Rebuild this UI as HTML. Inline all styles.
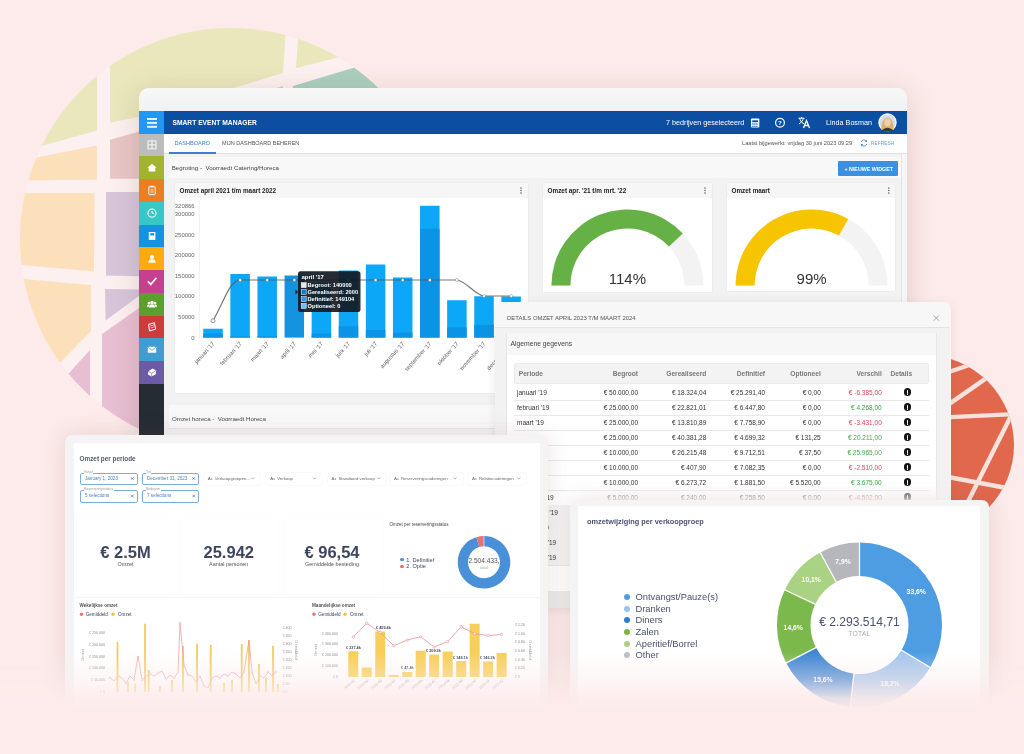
<!DOCTYPE html>
<html><head><meta charset="utf-8"><title>Smart Event Manager</title>
<style>
*{margin:0;padding:0;box-sizing:border-box}
html,body{width:1024px;height:754px;overflow:hidden;background:#fcebea;font-family:'Liberation Sans',Arial,sans-serif}
.abs{position:absolute}
.pc{position:absolute;width:1024px;height:754px}
.t{position:absolute;white-space:nowrap;line-height:1}
svg{position:absolute;left:0;top:0;overflow:visible}
#win{left:139px;top:88px;width:768px;height:347px;border-radius:10px 10px 0 0;overflow:hidden;background:#f4f4f4;box-shadow:0 6px 28px rgba(120,80,80,.22)}
#win>.pc{left:-139px;top:-88px}
#modal{left:495px;top:302px;width:455.5px;height:306px;border-radius:7px 7px 0 0;overflow:hidden;background:#f6f6f6;box-shadow:0 2px 10px rgba(120,80,80,.12)}
#modal>.pc{left:-495px;top:-302px}
#card1{left:65px;top:435px;width:483px;height:300px;border-radius:7px 7px 0 0;overflow:hidden;background:#f5f4f4;box-shadow:0 0 22px rgba(120,80,80,.16)}
#card1>.pc{left:-65px;top:-435px}
#card2{left:570px;top:500px;width:419px;height:240px;border-radius:7px 7px 0 0;overflow:hidden;background:#f5f4f4;box-shadow:0 0 22px rgba(120,80,80,.16)}
#card2>.pc{left:-570px;top:-500px}
#fade{left:0;top:0;width:1024px;height:754px;background:linear-gradient(to bottom,rgba(252,235,234,0) 0px,rgba(252,235,234,0) 652px,rgba(252,235,234,.45) 680px,rgba(252,235,234,.88) 698px,rgba(252,235,234,1) 710px)}
</style></head>
<body>
<div id="root" style="position:absolute;left:0;top:0;width:1024px;height:754px;filter:blur(0.3px)">
<svg width="1024" height="754" viewBox="0 0 1024 754">
<defs><clipPath id="gc"><circle cx="231" cy="239" r="211"/></clipPath>
<clipPath id="oc"><circle cx="924" cy="445" r="90"/></clipPath>
<linearGradient id="gsh" x1="0" y1="0" x2="1" y2="0"><stop offset="0" stop-color="#000" stop-opacity="0"/><stop offset="1" stop-color="#000" stop-opacity="0.06"/></linearGradient>
</defs>
<g clip-path="url(#gc)" style="filter:blur(0.4px)">
<circle cx="231" cy="239" r="211" fill="#fcf1f0"/>
<polygon fill="#e9e7bb" points="0,0 97,0 97,130.6 43,145.4 0,157"/>
<polygon fill="#e9e7bb" points="110,0 288,0 283,73 139,117 110,122.5"/>
<polygon fill="#e9e7bb" points="301,0 520,0 520,10 296,68.3"/>
<polygon fill="#abcfbf" points="293,86 352,68.3 520,20 520,220 293,220"/>
<polygon fill="#e9c6c6" points="110,139.8 139,131.5 283,86 283,178.8 110,178.8"/>
<polygon fill="#fce0bb" points="0,165 97,145.4 97,179.8 0,180.7"/>
<polygon fill="#fce0bb" points="0,193 94.5,193 94,271.5 0,263"/>
<polygon fill="#d8c5da" points="106,192 300,192 300,280 106,275.5"/>
<polygon fill="#fce0bb" points="0,277 91,285 91,331 60,363 40,385 0,430"/>
<polygon fill="#d8c5da" points="105,289 300,292 300,230 139,296 105.6,320.6"/>
<polygon fill="#e8bfd2" points="0,440 48,398 70,372 90,350 90,520 0,520"/>
<polygon fill="#e8bfd2" points="102,334 139,308 300,240 300,520 102,520"/>
</g>
<g clip-path="url(#oc)"><rect x="830" y="340" width="200" height="200" fill="#e1684d"/><g stroke="#f7e2de" stroke-width="4.4" fill="none"><line x1="940" y1="375" x2="990" y2="358"/><line x1="940" y1="410.4" x2="1000" y2="368.6"/><line x1="940" y1="417.6" x2="1020" y2="413.8"/><line x1="1013.9" y1="410" x2="958.8" y2="520"/><line x1="940" y1="475.5" x2="1012" y2="489"/></g></g>
</svg>
<div id="win" class="abs"><div class="pc">
<div class="abs" style="left:139.00px;top:88.00px;width:768.00px;height:23.00px;background:linear-gradient(#f8f8f8,#f1f1f1)"></div>
<div class="abs" style="left:164.00px;top:111.00px;width:743.00px;height:22.50px;background:#0b4ea2"></div>
<div class="abs" style="left:139.00px;top:111.00px;width:25.00px;height:22.50px;background:#2196f3"></div>
<div class="abs" style="left:147.00px;top:118.00px;width:9.80px;height:1.70px;background:#e8f4ff;box-shadow:0 3.9px 0 #e8f4ff,0 7.8px 0 #e8f4ff"></div>
<div class="t" style="left:172.50px;top:120.30px;font-size:6.7px;color:#fff;font-weight:bold">SMART EVENT MANAGER</div>
<div class="t" style="left:666.00px;top:119.20px;font-size:7.2px;color:#fff;">7 bedrijven geselecteerd</div>
<div class="t" style="left:826.00px;top:119.20px;font-size:7.2px;color:#fff;">Linda Bosman</div>
<div class="abs" style="left:139.00px;top:133.50px;width:25.00px;height:302.00px;background:#252c33"></div>
<div class="abs" style="left:139.00px;top:133.50px;width:25.00px;height:22.85px;background:#bcbcbc"></div>
<div class="abs" style="left:139.00px;top:156.25px;width:25.00px;height:22.85px;background:#a2b42f"></div>
<div class="abs" style="left:139.00px;top:179.00px;width:25.00px;height:22.85px;background:#eb7d22"></div>
<div class="abs" style="left:139.00px;top:201.75px;width:25.00px;height:22.85px;background:#38c7c7"></div>
<div class="abs" style="left:139.00px;top:224.50px;width:25.00px;height:22.85px;background:#1592e0"></div>
<div class="abs" style="left:139.00px;top:247.25px;width:25.00px;height:22.85px;background:#fcaa0e"></div>
<div class="abs" style="left:139.00px;top:270.00px;width:25.00px;height:22.85px;background:#c5408e"></div>
<div class="abs" style="left:139.00px;top:292.75px;width:25.00px;height:22.85px;background:#5b9f2d"></div>
<div class="abs" style="left:139.00px;top:315.50px;width:25.00px;height:22.85px;background:#cd3c3c"></div>
<div class="abs" style="left:139.00px;top:338.25px;width:25.00px;height:22.85px;background:#409cd1"></div>
<div class="abs" style="left:139.00px;top:361.00px;width:25.00px;height:22.85px;background:#6b5ba7"></div>
<div class="abs" style="left:164.00px;top:133.50px;width:743.00px;height:20.00px;background:#fff;border-bottom:1px solid #e2e2e2"></div>
<div class="t" style="left:174.50px;top:141.30px;font-size:5.6px;color:#3b7fd4;">DASHBOARD</div>
<div class="abs" style="left:169.00px;top:152.00px;width:47.00px;height:1.60px;background:#3b7fd4"></div>
<div class="t" style="left:222.00px;top:141.30px;font-size:5.5px;color:#555;">MIJN DASHBOARD BEHEREN</div>
<div class="t" style="left:742.00px;top:141.00px;font-size:5.65px;color:#555;">Laatst bijgewerkt: vrijdag 30 juni 2023 09:29</div>
<div class="t" style="left:871.00px;top:141.60px;font-size:4.75px;color:#5a98de;letter-spacing:0.1px">REFRESH</div>
<div class="abs" style="left:164.00px;top:154.00px;width:743.00px;height:281.00px;background:#f2f2f2"></div>
<div class="abs" style="left:168.50px;top:157.00px;width:735.00px;height:21.00px;background:#f8f8f8"></div>
<div class="t" style="left:171.70px;top:165.00px;font-size:6.2px;color:#444;">Begroting -&nbsp; Voorraedt Catering/Horeca</div>
<div class="abs" style="left:838.00px;top:160.75px;width:60.00px;height:15.50px;background:#3d8fe0;border-radius:1px"></div>
<div class="t" style="left:844.50px;top:166.50px;font-size:5.3px;color:#fff;font-weight:bold">+ NIEUWE WIDGET</div>
<div class="abs" style="left:901.00px;top:154.00px;width:6.00px;height:281.00px;background:#f6f6f6;border-left:1px solid #e4e4e4"></div>
<div class="abs" style="left:174.50px;top:182.50px;width:353.00px;height:210.00px;background:#fff;box-shadow:0 0 1px rgba(0,0,0,.12)"></div>
<div class="abs" style="left:174.50px;top:182.50px;width:353.00px;height:15.00px;background:#f6f6f6"></div>
<div class="t" style="left:179.50px;top:187.70px;font-size:6.35px;color:#222;font-weight:bold">Omzet april 2021 t/m maart 2022</div>
<div class="abs" style="left:542.50px;top:183.00px;width:169.50px;height:108.50px;background:#fff;box-shadow:0 0 1px rgba(0,0,0,.12)"></div>
<div class="abs" style="left:542.50px;top:183.00px;width:169.50px;height:14.50px;background:#f6f6f6"></div>
<div class="t" style="left:547.50px;top:188.00px;font-size:6.4px;color:#222;font-weight:bold">Omzet apr. '21 t/m mrt. '22</div>
<div class="abs" style="left:727.00px;top:182.50px;width:167.50px;height:108.50px;background:#fff;box-shadow:0 0 1px rgba(0,0,0,.12)"></div>
<div class="abs" style="left:727.00px;top:182.50px;width:167.50px;height:15.00px;background:#f6f6f6"></div>
<div class="t" style="left:731.50px;top:188.00px;font-size:6.35px;color:#222;font-weight:bold">Omzet maart</div>
<svg width="1024" height="754" style="font-family:'Liberation Sans',Arial,sans-serif">
<line x1="199.5" y1="200" x2="199.5" y2="338" stroke="#eee" stroke-width="0.8"/>
<text x="194.5" y="207.60" font-size="5.9" fill="#666" text-anchor="end">320866</text>
<text x="194.5" y="215.85" font-size="5.9" fill="#666" text-anchor="end">300000</text>
<text x="194.5" y="236.50" font-size="5.9" fill="#666" text-anchor="end">250000</text>
<text x="194.5" y="257.10" font-size="5.9" fill="#666" text-anchor="end">200000</text>
<text x="194.5" y="277.70" font-size="5.9" fill="#666" text-anchor="end">150000</text>
<text x="194.5" y="298.40" font-size="5.9" fill="#666" text-anchor="end">100000</text>
<text x="194.5" y="319.10" font-size="5.9" fill="#666" text-anchor="end">50000</text>
<text x="194.5" y="339.70" font-size="5.9" fill="#666" text-anchor="end">0</text>
<rect x="203.25" y="328.75" width="19.5" height="8.85" fill="#0ca7f6"/>
<rect x="203.25" y="333.5" width="19.5" height="4.10" fill="#0b93e6"/>
<rect x="230.35" y="274" width="19.5" height="63.60" fill="#0ca7f6"/>
<rect x="230.35" y="336.3" width="19.5" height="1.30" fill="#0b93e6"/>
<rect x="257.45" y="276.5" width="19.5" height="61.10" fill="#0ca7f6"/>
<rect x="257.45" y="336.3" width="19.5" height="1.30" fill="#0b93e6"/>
<rect x="284.55" y="275.5" width="19.5" height="62.10" fill="#1494df"/>
<rect x="311.65" y="283" width="19.5" height="54.60" fill="#0ca7f6"/>
<rect x="311.65" y="333.5" width="19.5" height="4.10" fill="#0b93e6"/>
<rect x="338.75" y="270.5" width="19.5" height="67.10" fill="#0ca7f6"/>
<rect x="338.75" y="326.25" width="19.5" height="11.35" fill="#0b93e6"/>
<rect x="365.85" y="264.5" width="19.5" height="73.10" fill="#0ca7f6"/>
<rect x="365.85" y="330" width="19.5" height="7.60" fill="#0b93e6"/>
<rect x="392.95" y="277.5" width="19.5" height="60.10" fill="#0ca7f6"/>
<rect x="392.95" y="332.5" width="19.5" height="5.10" fill="#0b93e6"/>
<rect x="420.05" y="205.75" width="19.5" height="131.85" fill="#0ca7f6"/>
<rect x="420.05" y="228.75" width="19.5" height="108.85" fill="#0b93e6"/>
<rect x="447.15" y="300.25" width="19.5" height="37.35" fill="#0ca7f6"/>
<rect x="447.15" y="327.5" width="19.5" height="10.10" fill="#0b93e6"/>
<rect x="474.25" y="296.25" width="19.5" height="41.35" fill="#0ca7f6"/>
<rect x="474.25" y="325" width="19.5" height="12.60" fill="#0b93e6"/>
<rect x="501.35" y="296.5" width="19.5" height="41.10" fill="#0ca7f6"/>
<rect x="501.35" y="330" width="19.5" height="7.60" fill="#0b93e6"/>
<path d="M213,320.75 C224,302 229,281 240,280 L457,280 C466,281 475,295 484,296 L511,296" fill="none" stroke="rgba(85,85,85,.8)" stroke-width="1.2"/>
<circle cx="213" cy="320.75" r="2" fill="#fff" stroke="#777" stroke-width="0.8"/>
<circle cx="240.10" cy="280" r="1.5" fill="#fff" stroke="rgba(85,85,85,.7)" stroke-width="0.5"/>
<circle cx="267.20" cy="280" r="1.5" fill="#fff" stroke="rgba(85,85,85,.7)" stroke-width="0.5"/>
<circle cx="294.30" cy="280" r="1.5" fill="#fff" stroke="rgba(85,85,85,.7)" stroke-width="0.5"/>
<circle cx="321.40" cy="280" r="1.5" fill="#fff" stroke="rgba(85,85,85,.7)" stroke-width="0.5"/>
<circle cx="348.50" cy="280" r="1.5" fill="#fff" stroke="rgba(85,85,85,.7)" stroke-width="0.5"/>
<circle cx="375.60" cy="280" r="1.5" fill="#fff" stroke="rgba(85,85,85,.7)" stroke-width="0.5"/>
<circle cx="402.70" cy="280" r="1.5" fill="#fff" stroke="rgba(85,85,85,.7)" stroke-width="0.5"/>
<circle cx="429.80" cy="280" r="1.5" fill="#fff" stroke="rgba(85,85,85,.7)" stroke-width="0.5"/>
<circle cx="456.90" cy="280" r="1.5" fill="#fff" stroke="rgba(85,85,85,.7)" stroke-width="0.5"/>
<circle cx="484.00" cy="296" r="1.5" fill="#fff" stroke="rgba(85,85,85,.7)" stroke-width="0.5"/>
<circle cx="511.10" cy="296" r="1.5" fill="#fff" stroke="rgba(85,85,85,.7)" stroke-width="0.5"/>
<text x="215.00" y="344" font-size="5.9" fill="#666" text-anchor="end" transform="rotate(-48 215.00 344)">januari '17</text>
<text x="242.10" y="344" font-size="5.9" fill="#666" text-anchor="end" transform="rotate(-48 242.10 344)">februari '17</text>
<text x="269.20" y="344" font-size="5.9" fill="#666" text-anchor="end" transform="rotate(-48 269.20 344)">maart '17</text>
<text x="296.30" y="344" font-size="5.9" fill="#666" text-anchor="end" transform="rotate(-48 296.30 344)">april '17</text>
<text x="323.40" y="344" font-size="5.9" fill="#666" text-anchor="end" transform="rotate(-48 323.40 344)">mei '17</text>
<text x="350.50" y="344" font-size="5.9" fill="#666" text-anchor="end" transform="rotate(-48 350.50 344)">juni '17</text>
<text x="377.60" y="344" font-size="5.9" fill="#666" text-anchor="end" transform="rotate(-48 377.60 344)">juli '17</text>
<text x="404.70" y="344" font-size="5.9" fill="#666" text-anchor="end" transform="rotate(-48 404.70 344)">augustus '17</text>
<text x="431.80" y="344" font-size="5.9" fill="#666" text-anchor="end" transform="rotate(-48 431.80 344)">september '17</text>
<text x="458.90" y="344" font-size="5.9" fill="#666" text-anchor="end" transform="rotate(-48 458.90 344)">oktober '17</text>
<text x="486.00" y="344" font-size="5.9" fill="#666" text-anchor="end" transform="rotate(-48 486.00 344)">november '17</text>
<text x="513.10" y="344" font-size="5.9" fill="#666" text-anchor="end" transform="rotate(-48 513.10 344)">december '17</text>
<path d="M298,292 l-2.5,-2.5 v5 z" fill="rgba(18,26,34,.92)"/>
<rect x="298" y="271.25" width="62.5" height="40.75" rx="2.5" fill="rgba(18,26,34,.92)"/>
<text x="301.5" y="278.5" font-size="6" fill="#fff" font-weight="bold">april '17</text>
<rect x="301.2" y="282.65" width="5" height="5" fill="#e8e8e8" stroke="#fff" stroke-width="0.5"/>
<text x="307.5" y="287.45" font-size="5.7" fill="#fff" font-weight="bold">Begroot: 140000</text>
<rect x="301.2" y="289.65" width="5" height="5" fill="#0d7fd6" stroke="#fff" stroke-width="0.5"/>
<text x="307.5" y="294.45" font-size="5.7" fill="#fff" font-weight="bold">Gerealiseerd: 2000</text>
<rect x="301.2" y="296.65" width="5" height="5" fill="#1aa0ef" stroke="#fff" stroke-width="0.5"/>
<text x="307.5" y="301.45" font-size="5.7" fill="#fff" font-weight="bold">Definitief: 149104</text>
<rect x="301.2" y="303.40" width="5" height="5" fill="#6cc3f5" stroke="#fff" stroke-width="0.5"/>
<text x="307.5" y="308.20" font-size="5.7" fill="#fff" font-weight="bold">Optioneel: 0</text>
<circle cx="521" cy="187.90" r="0.75" fill="#555"/>
<circle cx="521" cy="190.50" r="0.75" fill="#555"/>
<circle cx="521" cy="193.10" r="0.75" fill="#555"/>
<circle cx="705" cy="187.90" r="0.75" fill="#555"/>
<circle cx="705" cy="190.50" r="0.75" fill="#555"/>
<circle cx="705" cy="193.10" r="0.75" fill="#555"/>
<circle cx="888.75" cy="187.90" r="0.75" fill="#555"/>
<circle cx="888.75" cy="190.50" r="0.75" fill="#555"/>
<circle cx="888.75" cy="193.10" r="0.75" fill="#555"/>
<path d="M551.40,285.50 A76,76 0 0 1 703.40,285.50 L684.40,285.50 A57,57 0 0 0 570.40,285.50 Z" fill="#f3f3f3"/>
<path d="M551.40,285.50 A76,76 0 0 1 682.80,233.47 L668.95,246.48 A57,57 0 0 0 570.40,285.50 Z" fill="#66b146"/>
<text x="627.4" y="283.8" font-size="15" fill="#333" text-anchor="middle">114%</text>
<path d="M735.60,285.50 A76,76 0 0 1 887.60,285.50 L868.60,285.50 A57,57 0 0 0 754.60,285.50 Z" fill="#f3f3f3"/>
<path d="M735.60,285.50 A76,76 0 0 1 848.21,218.90 L839.06,235.55 A57,57 0 0 0 754.60,285.50 Z" fill="#f6c500"/>
<text x="811.6" y="283.8" font-size="15" fill="#333" text-anchor="middle">99%</text>
<rect x="751" y="118.5" width="8.3" height="9" rx="0.8" fill="#fff"/>
<rect x="752.3" y="120.3" width="5.7" height="1.8" fill="#0b4ea2"/>
<rect x="752.3" y="122.8" width="1.2" height="0.9" fill="#0b4ea2"/>
<rect x="754.3" y="122.8" width="1.2" height="0.9" fill="#0b4ea2"/>
<rect x="756.3" y="122.8" width="1.2" height="0.9" fill="#0b4ea2"/>
<rect x="752.3" y="124.4" width="1.2" height="0.9" fill="#0b4ea2"/>
<rect x="754.3" y="124.4" width="1.2" height="0.9" fill="#0b4ea2"/>
<rect x="756.3" y="124.4" width="1.2" height="0.9" fill="#0b4ea2"/>
<rect x="752.3" y="126.0" width="1.2" height="0.9" fill="#0b4ea2"/>
<rect x="754.3" y="126.0" width="1.2" height="0.9" fill="#0b4ea2"/>
<rect x="756.3" y="126.0" width="1.2" height="0.9" fill="#0b4ea2"/>
<circle cx="780" cy="122.75" r="4.4" fill="none" stroke="#fff" stroke-width="1.2"/>
<text x="780" y="125" font-size="6.2" fill="#fff" font-weight="bold" text-anchor="middle">?</text>
<path d="M798.5,118.2 h6 M801.5,117 v1.2 M799.5,118.5 q1.5,4 4.5,5.5 M803.5,118.5 q-1,3.5 -4.5,5.5" stroke="#fff" stroke-width="1" fill="none"/>
<path d="M803.5,128 l3,-7.5 l3,7.5 M804.6,125.5 h3.8" stroke="#fff" stroke-width="1.3" fill="none"/>
<circle cx="887.5" cy="122.5" r="9.2" fill="#fff"/>
<circle cx="887.5" cy="122.5" r="8" fill="#d5dde4"/>
<path d="M881.2,130 q0,-11 6.3,-12.5 q6.3,1.5 6.3,12.5 z" fill="#dcb36c"/>
<ellipse cx="887.5" cy="122.3" rx="3.1" ry="3.9" fill="#f3cdb0"/>
<path d="M881.5,130.6 q6,-5.5 12,0 q-6,2.5 -12,0z" fill="#3a3a3a"/>
<path d="M866.5,141.3 a2.9,2.9 0 0 0 -5.3,0.6 M861.5,144.7 a2.9,2.9 0 0 0 5.3,-0.6" stroke="#4a90d9" stroke-width="0.9" fill="none"/><path d="M867,139.6 v2.3 h-2.3 z M861,146.4 v-2.3 h2.3 z" fill="#4a90d9"/>
<rect x="148" y="140.90" width="8" height="8" fill="none" stroke="#fff" stroke-width="0.9"/><line x1="152" y1="140.90" x2="152" y2="148.90" stroke="#fff" stroke-width="0.9"/><line x1="148" y1="144.90" x2="156" y2="144.90" stroke="#fff" stroke-width="0.9"/>
<path d="M147.5,167.85 L152,163.65 L156.5,167.85 L155.3,167.85 L155.3,171.45 L148.7,171.45 L148.7,167.85 Z" fill="#fff"/>
<rect x="148.8" y="186.60" width="6.4" height="8" rx="0.8" fill="none" stroke="#fff" stroke-width="1"/><rect x="150.5" y="185.80" width="3" height="1.6" fill="#fff"/><line x1="150.3" y1="189.90" x2="153.7" y2="189.90" stroke="#fff" stroke-width="0.8"/><line x1="150.3" y1="192.00" x2="153.7" y2="192.00" stroke="#fff" stroke-width="0.8"/>
<circle cx="152" cy="213.15" r="4" fill="none" stroke="#fff" stroke-width="1.1"/><path d="M152,210.95 V213.15 H154" fill="none" stroke="#fff" stroke-width="0.9"/>
<rect x="148.6" y="231.90" width="6.8" height="8" rx="0.6" fill="#fff"/><rect x="150.3" y="233.10" width="3.8" height="2.4" fill="#1592e0"/><line x1="148.6" y1="232.90" x2="148.6" y2="238.90" stroke="#1592e0" stroke-width="0.6"/>
<circle cx="152" cy="257.05" r="2.1" fill="#fff"/><path d="M148.2,262.65 Q148.4,259.45 152,259.25 Q155.6,259.45 155.8,262.65 Z" fill="#fff"/>
<path d="M147.8,281.40 L150.8,284.40 L156.4,277.80" fill="none" stroke="#fff" stroke-width="1.7"/>
<circle cx="152" cy="302.35" r="1.7" fill="#fff"/><circle cx="149" cy="303.15" r="1.3" fill="#fff"/><circle cx="155" cy="303.15" r="1.3" fill="#fff"/><path d="M148.8,307.55 Q149,304.15 152,304.15 Q155,304.15 155.2,307.55 Z" fill="#fff"/><path d="M146.8,306.75 Q147,304.45 149,304.55 L149.4,306.75 Z M157.2,306.75 Q157,304.45 155,304.55 L154.6,306.75 Z" fill="#fff"/>
<path d="M149.5,330.90 L148.6,324.40 L154.4,322.70 L155.6,329.20 Z" fill="none" stroke="#fff" stroke-width="1"/><line x1="150.2" y1="325.90" x2="153.8" y2="324.90" stroke="#fff" stroke-width="0.7"/><line x1="150.6" y1="327.90" x2="154.2" y2="326.90" stroke="#fff" stroke-width="0.7"/>
<rect x="147.8" y="346.85" width="8.4" height="5.8" rx="0.5" fill="#fff"/><path d="M147.8,347.05 L152,350.25 L156.2,347.05" fill="none" stroke="#3e9bd0" stroke-width="0.7"/>
<path d="M148.2,371.40 L152.5,368.60 L156.2,370.40 L155.8,374.20 L151.5,376.40 L148,374.60 Z" fill="#fff"/><path d="M148.2,371.40 L151.8,373.20 L156.2,370.40 M151.8,373.20 L151.5,376.40" fill="none" stroke="#6a5aa6" stroke-width="0.6"/>
</svg>
<div class="abs" style="left:168.50px;top:405.00px;width:735.00px;height:24.00px;background:#f8f8f8;border-bottom:1px solid #e6e6e6"></div>
<div class="t" style="left:172.00px;top:415.60px;font-size:6.15px;color:#444;">Omzet horeca -&nbsp; Voorraedt Horeca</div>
</div></div>
<div id="modal" class="abs"><div class="pc">
<div class="abs" style="left:495.00px;top:302.00px;width:455.00px;height:25.50px;background:#f7f7f7;border-bottom:1px solid #e4e4e4"></div>
<div class="t" style="left:507.00px;top:316.30px;font-size:5.95px;color:#555;">DETAILS OMZET APRIL 2023 T/M MAART 2024</div>
<svg width="1024" height="754"><path d="M933.6,315.4 l5.4,5.4 M939,315.4 l-5.4,5.4" stroke="#999" stroke-width="0.8"/></svg>
<div class="abs" style="left:495.00px;top:328.00px;width:455.00px;height:280.00px;background:#f2f2f2"></div>
<div class="abs" style="left:506.00px;top:332.50px;width:430.50px;height:262.00px;background:#fff;border:1px solid #e6e6e6"></div>
<div class="abs" style="left:506.50px;top:333.00px;width:429.50px;height:22.00px;background:#f7f7f7"></div>
<div class="t" style="left:510.50px;top:341.20px;font-size:6.75px;color:#444;">Algemene gegevens</div>
<div class="abs" style="left:513.75px;top:362.50px;width:415.00px;height:21.75px;background:#f3f3f3;border-radius:2px;border:1px solid #ebebeb"></div>
<div class="t" style="left:518.75px;top:371.00px;font-size:6.6px;color:#777;font-weight:bold">Periode</div>
<div class="t" style="right:386.00px;top:371.00px;font-size:6.6px;color:#777;font-weight:bold">Begroot</div>
<div class="t" style="right:317.75px;top:371.00px;font-size:6.6px;color:#777;font-weight:bold">Gerealiseerd</div>
<div class="t" style="right:259.00px;top:371.00px;font-size:6.6px;color:#777;font-weight:bold">Definitief</div>
<div class="t" style="right:203.25px;top:371.00px;font-size:6.6px;color:#777;font-weight:bold">Optioneel</div>
<div class="t" style="right:142.25px;top:371.00px;font-size:6.6px;color:#777;font-weight:bold">Verschil</div>
<div class="t" style="left:890.50px;top:371.00px;font-size:6.6px;color:#777;font-weight:bold">Details</div>
<div class="t" style="left:517.00px;top:389.50px;font-size:6.5px;color:#333;">januari '19</div>
<div class="t" style="right:386.00px;top:389.50px;font-size:6.5px;color:#333;">€ 50.000,00</div>
<div class="t" style="right:317.75px;top:389.50px;font-size:6.5px;color:#333;">€ 18.324,04</div>
<div class="t" style="right:259.00px;top:389.50px;font-size:6.5px;color:#333;">€ 25.291,40</div>
<div class="t" style="right:203.25px;top:389.50px;font-size:6.5px;color:#333;">€ 0,00</div>
<div class="t" style="right:142.25px;top:389.50px;font-size:6.5px;color:#e2455a;">€ -6.385,00</div>
<div class="abs" style="left:903.70px;top:388.40px;width:7.20px;height:7.20px;border-radius:50%;background:#151515"></div>
<div class="abs" style="left:906.65px;top:389.60px;width:1.30px;height:3.10px;background:#fff;border-radius:0.5px 0.5px 0.3px 0.3px"></div>
<div class="abs" style="left:906.65px;top:393.35px;width:1.30px;height:1.20px;background:#fff;border-radius:0.5px"></div>
<div class="abs" style="left:513.75px;top:399.50px;width:415.00px;height:0.80px;background:#e8e8e8"></div>
<div class="t" style="left:517.00px;top:404.50px;font-size:6.5px;color:#333;">februari '19</div>
<div class="t" style="right:386.00px;top:404.50px;font-size:6.5px;color:#333;">€ 25.000,00</div>
<div class="t" style="right:317.75px;top:404.50px;font-size:6.5px;color:#333;">€ 22.821,01</div>
<div class="t" style="right:259.00px;top:404.50px;font-size:6.5px;color:#333;">€ 6.447,80</div>
<div class="t" style="right:203.25px;top:404.50px;font-size:6.5px;color:#333;">€ 0,00</div>
<div class="t" style="right:142.25px;top:404.50px;font-size:6.5px;color:#3aa845;">€ 4.268,00</div>
<div class="abs" style="left:903.70px;top:403.40px;width:7.20px;height:7.20px;border-radius:50%;background:#151515"></div>
<div class="abs" style="left:906.65px;top:404.60px;width:1.30px;height:3.10px;background:#fff;border-radius:0.5px 0.5px 0.3px 0.3px"></div>
<div class="abs" style="left:906.65px;top:408.35px;width:1.30px;height:1.20px;background:#fff;border-radius:0.5px"></div>
<div class="abs" style="left:513.75px;top:414.50px;width:415.00px;height:0.80px;background:#e8e8e8"></div>
<div class="t" style="left:517.00px;top:419.50px;font-size:6.5px;color:#333;">maart '19</div>
<div class="t" style="right:386.00px;top:419.50px;font-size:6.5px;color:#333;">€ 25.000,00</div>
<div class="t" style="right:317.75px;top:419.50px;font-size:6.5px;color:#333;">€ 13.810,89</div>
<div class="t" style="right:259.00px;top:419.50px;font-size:6.5px;color:#333;">€ 7.758,90</div>
<div class="t" style="right:203.25px;top:419.50px;font-size:6.5px;color:#333;">€ 0,00</div>
<div class="t" style="right:142.25px;top:419.50px;font-size:6.5px;color:#e2455a;">€ -3.431,00</div>
<div class="abs" style="left:903.70px;top:418.40px;width:7.20px;height:7.20px;border-radius:50%;background:#151515"></div>
<div class="abs" style="left:906.65px;top:419.60px;width:1.30px;height:3.10px;background:#fff;border-radius:0.5px 0.5px 0.3px 0.3px"></div>
<div class="abs" style="left:906.65px;top:423.35px;width:1.30px;height:1.20px;background:#fff;border-radius:0.5px"></div>
<div class="abs" style="left:513.75px;top:429.50px;width:415.00px;height:0.80px;background:#e8e8e8"></div>
<div class="t" style="left:517.00px;top:434.50px;font-size:6.5px;color:#333;">april '19</div>
<div class="t" style="right:386.00px;top:434.50px;font-size:6.5px;color:#333;">€ 25.000,00</div>
<div class="t" style="right:317.75px;top:434.50px;font-size:6.5px;color:#333;">€ 40.381,28</div>
<div class="t" style="right:259.00px;top:434.50px;font-size:6.5px;color:#333;">€ 4.699,32</div>
<div class="t" style="right:203.25px;top:434.50px;font-size:6.5px;color:#333;">€ 131,25</div>
<div class="t" style="right:142.25px;top:434.50px;font-size:6.5px;color:#3aa845;">€ 20.211,00</div>
<div class="abs" style="left:903.70px;top:433.40px;width:7.20px;height:7.20px;border-radius:50%;background:#151515"></div>
<div class="abs" style="left:906.65px;top:434.60px;width:1.30px;height:3.10px;background:#fff;border-radius:0.5px 0.5px 0.3px 0.3px"></div>
<div class="abs" style="left:906.65px;top:438.35px;width:1.30px;height:1.20px;background:#fff;border-radius:0.5px"></div>
<div class="abs" style="left:513.75px;top:444.50px;width:415.00px;height:0.80px;background:#e8e8e8"></div>
<div class="t" style="left:517.00px;top:449.50px;font-size:6.5px;color:#333;">mei '19</div>
<div class="t" style="right:386.00px;top:449.50px;font-size:6.5px;color:#333;">€ 10.000,00</div>
<div class="t" style="right:317.75px;top:449.50px;font-size:6.5px;color:#333;">€ 26.215,48</div>
<div class="t" style="right:259.00px;top:449.50px;font-size:6.5px;color:#333;">€ 9.712,51</div>
<div class="t" style="right:203.25px;top:449.50px;font-size:6.5px;color:#333;">€ 37,50</div>
<div class="t" style="right:142.25px;top:449.50px;font-size:6.5px;color:#3aa845;">€ 25.965,00</div>
<div class="abs" style="left:903.70px;top:448.40px;width:7.20px;height:7.20px;border-radius:50%;background:#151515"></div>
<div class="abs" style="left:906.65px;top:449.60px;width:1.30px;height:3.10px;background:#fff;border-radius:0.5px 0.5px 0.3px 0.3px"></div>
<div class="abs" style="left:906.65px;top:453.35px;width:1.30px;height:1.20px;background:#fff;border-radius:0.5px"></div>
<div class="abs" style="left:513.75px;top:459.50px;width:415.00px;height:0.80px;background:#e8e8e8"></div>
<div class="t" style="left:517.00px;top:464.50px;font-size:6.5px;color:#333;">juni '19</div>
<div class="t" style="right:386.00px;top:464.50px;font-size:6.5px;color:#333;">€ 10.000,00</div>
<div class="t" style="right:317.75px;top:464.50px;font-size:6.5px;color:#333;">€ 407,90</div>
<div class="t" style="right:259.00px;top:464.50px;font-size:6.5px;color:#333;">€ 7.082,35</div>
<div class="t" style="right:203.25px;top:464.50px;font-size:6.5px;color:#333;">€ 0,00</div>
<div class="t" style="right:142.25px;top:464.50px;font-size:6.5px;color:#e2455a;">€ -2.510,00</div>
<div class="abs" style="left:903.70px;top:463.40px;width:7.20px;height:7.20px;border-radius:50%;background:#151515"></div>
<div class="abs" style="left:906.65px;top:464.60px;width:1.30px;height:3.10px;background:#fff;border-radius:0.5px 0.5px 0.3px 0.3px"></div>
<div class="abs" style="left:906.65px;top:468.35px;width:1.30px;height:1.20px;background:#fff;border-radius:0.5px"></div>
<div class="abs" style="left:513.75px;top:474.50px;width:415.00px;height:0.80px;background:#e8e8e8"></div>
<div class="t" style="left:517.00px;top:479.50px;font-size:6.5px;color:#333;">juli '19</div>
<div class="t" style="right:386.00px;top:479.50px;font-size:6.5px;color:#333;">€ 10.000,00</div>
<div class="t" style="right:317.75px;top:479.50px;font-size:6.5px;color:#333;">€ 6.273,72</div>
<div class="t" style="right:259.00px;top:479.50px;font-size:6.5px;color:#333;">€ 1.881,50</div>
<div class="t" style="right:203.25px;top:479.50px;font-size:6.5px;color:#333;">€ 5.520,00</div>
<div class="t" style="right:142.25px;top:479.50px;font-size:6.5px;color:#3aa845;">€ 3.675,00</div>
<div class="abs" style="left:903.70px;top:478.40px;width:7.20px;height:7.20px;border-radius:50%;background:#151515"></div>
<div class="abs" style="left:906.65px;top:479.60px;width:1.30px;height:3.10px;background:#fff;border-radius:0.5px 0.5px 0.3px 0.3px"></div>
<div class="abs" style="left:906.65px;top:483.35px;width:1.30px;height:1.20px;background:#fff;border-radius:0.5px"></div>
<div class="abs" style="left:513.75px;top:489.50px;width:415.00px;height:0.80px;background:#e8e8e8"></div>
<div class="t" style="left:517.00px;top:494.50px;font-size:6.5px;color:#333;">augustus '19</div>
<div class="t" style="right:386.00px;top:494.50px;font-size:6.5px;color:#333;">€ 5.000,00</div>
<div class="t" style="right:317.75px;top:494.50px;font-size:6.5px;color:#333;">€ 240,00</div>
<div class="t" style="right:259.00px;top:494.50px;font-size:6.5px;color:#333;">€ 258,50</div>
<div class="t" style="right:203.25px;top:494.50px;font-size:6.5px;color:#333;">€ 0,00</div>
<div class="t" style="right:142.25px;top:494.50px;font-size:6.5px;color:#e2455a;">€ -4.502,00</div>
<div class="abs" style="left:903.70px;top:493.40px;width:7.20px;height:7.20px;border-radius:50%;background:#151515"></div>
<div class="abs" style="left:906.65px;top:494.60px;width:1.30px;height:3.10px;background:#fff;border-radius:0.5px 0.5px 0.3px 0.3px"></div>
<div class="abs" style="left:906.65px;top:498.35px;width:1.30px;height:1.20px;background:#fff;border-radius:0.5px"></div>
<div class="abs" style="left:513.75px;top:504.50px;width:415.00px;height:0.80px;background:#e8e8e8"></div>
<div class="abs" style="left:513.75px;top:504.50px;width:415.00px;height:15.00px;background:#f4f4f4"></div>
<div class="t" style="left:517.00px;top:509.50px;font-size:6.5px;color:#333;">september '19</div>
<div class="t" style="right:386.00px;top:509.50px;font-size:6.5px;color:#333;">€ 5.000,00</div>
<div class="t" style="right:317.75px;top:509.50px;font-size:6.5px;color:#333;">€ 1.350,00</div>
<div class="t" style="right:259.00px;top:509.50px;font-size:6.5px;color:#333;">€ 2.100,00</div>
<div class="t" style="right:203.25px;top:509.50px;font-size:6.5px;color:#333;">€ 0,00</div>
<div class="t" style="right:142.25px;top:509.50px;font-size:6.5px;color:#e2455a;">€ -1.550,00</div>
<div class="abs" style="left:903.70px;top:508.40px;width:7.20px;height:7.20px;border-radius:50%;background:#151515"></div>
<div class="abs" style="left:906.65px;top:509.60px;width:1.30px;height:3.10px;background:#fff;border-radius:0.5px 0.5px 0.3px 0.3px"></div>
<div class="abs" style="left:906.65px;top:513.35px;width:1.30px;height:1.20px;background:#fff;border-radius:0.5px"></div>
<div class="abs" style="left:513.75px;top:519.50px;width:415.00px;height:0.80px;background:#e8e8e8"></div>
<div class="abs" style="left:513.75px;top:519.50px;width:415.00px;height:15.00px;background:#f4f4f4"></div>
<div class="t" style="left:517.00px;top:524.50px;font-size:6.5px;color:#333;">oktober '19</div>
<div class="t" style="right:386.00px;top:524.50px;font-size:6.5px;color:#333;">€ 5.000,00</div>
<div class="t" style="right:317.75px;top:524.50px;font-size:6.5px;color:#333;">€ 3.400,00</div>
<div class="t" style="right:259.00px;top:524.50px;font-size:6.5px;color:#333;">€ 1.250,00</div>
<div class="t" style="right:203.25px;top:524.50px;font-size:6.5px;color:#333;">€ 0,00</div>
<div class="t" style="right:142.25px;top:524.50px;font-size:6.5px;color:#e2455a;">€ -350,00</div>
<div class="abs" style="left:903.70px;top:523.40px;width:7.20px;height:7.20px;border-radius:50%;background:#151515"></div>
<div class="abs" style="left:906.65px;top:524.60px;width:1.30px;height:3.10px;background:#fff;border-radius:0.5px 0.5px 0.3px 0.3px"></div>
<div class="abs" style="left:906.65px;top:528.35px;width:1.30px;height:1.20px;background:#fff;border-radius:0.5px"></div>
<div class="abs" style="left:513.75px;top:534.50px;width:415.00px;height:0.80px;background:#e8e8e8"></div>
<div class="abs" style="left:513.75px;top:534.50px;width:415.00px;height:15.00px;background:#f4f4f4"></div>
<div class="t" style="left:517.00px;top:539.50px;font-size:6.5px;color:#333;">november '19</div>
<div class="t" style="right:386.00px;top:539.50px;font-size:6.5px;color:#333;">€ 5.000,00</div>
<div class="t" style="right:317.75px;top:539.50px;font-size:6.5px;color:#333;">€ 2.875,00</div>
<div class="t" style="right:259.00px;top:539.50px;font-size:6.5px;color:#333;">€ 3.120,00</div>
<div class="t" style="right:203.25px;top:539.50px;font-size:6.5px;color:#333;">€ 0,00</div>
<div class="t" style="right:142.25px;top:539.50px;font-size:6.5px;color:#3aa845;">€ 995,00</div>
<div class="abs" style="left:903.70px;top:538.40px;width:7.20px;height:7.20px;border-radius:50%;background:#151515"></div>
<div class="abs" style="left:906.65px;top:539.60px;width:1.30px;height:3.10px;background:#fff;border-radius:0.5px 0.5px 0.3px 0.3px"></div>
<div class="abs" style="left:906.65px;top:543.35px;width:1.30px;height:1.20px;background:#fff;border-radius:0.5px"></div>
<div class="abs" style="left:513.75px;top:549.50px;width:415.00px;height:0.80px;background:#e8e8e8"></div>
<div class="abs" style="left:513.75px;top:549.50px;width:415.00px;height:15.00px;background:#f4f4f4"></div>
<div class="t" style="left:517.00px;top:554.50px;font-size:6.5px;color:#333;">december '19</div>
<div class="t" style="right:386.00px;top:554.50px;font-size:6.5px;color:#333;">€ 5.000,00</div>
<div class="t" style="right:317.75px;top:554.50px;font-size:6.5px;color:#333;">€ 4.100,00</div>
<div class="t" style="right:259.00px;top:554.50px;font-size:6.5px;color:#333;">€ 2.650,00</div>
<div class="t" style="right:203.25px;top:554.50px;font-size:6.5px;color:#333;">€ 0,00</div>
<div class="t" style="right:142.25px;top:554.50px;font-size:6.5px;color:#3aa845;">€ 1.750,00</div>
<div class="abs" style="left:903.70px;top:553.40px;width:7.20px;height:7.20px;border-radius:50%;background:#151515"></div>
<div class="abs" style="left:906.65px;top:554.60px;width:1.30px;height:3.10px;background:#fff;border-radius:0.5px 0.5px 0.3px 0.3px"></div>
<div class="abs" style="left:906.65px;top:558.35px;width:1.30px;height:1.20px;background:#fff;border-radius:0.5px"></div>
<div class="abs" style="left:513.75px;top:564.50px;width:415.00px;height:0.80px;background:#e8e8e8"></div>
<div class="abs" style="left:495.00px;top:591.00px;width:455.00px;height:17.00px;background:#ececec"></div>
<div class="abs" style="left:566.00px;top:484.00px;width:390.00px;height:16.00px;background:linear-gradient(rgba(255,255,255,0),rgba(255,255,255,.75))"></div>
</div></div>
<div id="card1" class="abs"><div class="pc">
<div class="abs" style="left:73.75px;top:443.00px;width:466.25px;height:300.00px;background:#fff"></div>
<div class="t" style="left:79.50px;top:456.20px;font-size:6.4px;color:#555b6e;font-weight:bold">Omzet per periode</div>
<div class="abs" style="left:79.50px;top:472.50px;width:58.00px;height:12.00px;border:0.8px solid #7aaee0;border-radius:2px"></div><div class="t" style="left:83.50px;top:470.70px;font-size:3.4px;color:#999;background:#fff;padding:0 0.6px">Vanaf</div><div class="t" style="left:85.00px;top:476.90px;font-size:4.6px;color:#4a7fc1;">January 1, 2023</div><svg width="1024" height="754"><path d="M130.90,477.20 l2.6,2.6 M133.50,477.20 l-2.6,2.6" stroke="#4a7fc1" stroke-width="0.8"/></svg>
<div class="abs" style="left:141.50px;top:472.50px;width:57.50px;height:12.00px;border:0.8px solid #7aaee0;border-radius:2px"></div><div class="t" style="left:145.50px;top:470.70px;font-size:3.4px;color:#999;background:#fff;padding:0 0.6px">Tot</div><div class="t" style="left:147.00px;top:476.90px;font-size:4.6px;color:#4a7fc1;">December 31, 2023</div><svg width="1024" height="754"><path d="M192.40,477.20 l2.6,2.6 M195.00,477.20 l-2.6,2.6" stroke="#4a7fc1" stroke-width="0.8"/></svg>
<div class="abs" style="left:79.50px;top:489.50px;width:58.00px;height:13.00px;border:0.8px solid #7aaee0;border-radius:2px"></div><div class="t" style="left:83.50px;top:487.70px;font-size:3.4px;color:#999;background:#fff;padding:0 0.6px">Reserveringsstatus</div><div class="t" style="left:85.00px;top:494.40px;font-size:4.6px;color:#4a7fc1;">5 selections</div><svg width="1024" height="754"><path d="M130.90,494.70 l2.6,2.6 M133.50,494.70 l-2.6,2.6" stroke="#4a7fc1" stroke-width="0.8"/></svg>
<div class="abs" style="left:141.50px;top:489.50px;width:57.50px;height:13.00px;border:0.8px solid #7aaee0;border-radius:2px"></div><div class="t" style="left:145.50px;top:487.70px;font-size:3.4px;color:#999;background:#fff;padding:0 0.6px">Bedrijven</div><div class="t" style="left:147.00px;top:494.40px;font-size:4.6px;color:#4a7fc1;">7 selections</div><svg width="1024" height="754"><path d="M192.40,494.70 l2.6,2.6 M195.00,494.70 l-2.6,2.6" stroke="#4a7fc1" stroke-width="0.8"/></svg>
<div class="abs" style="left:203.75px;top:472.50px;width:56.25px;height:12.00px;border-radius:2px;box-shadow:0 0 1.5px rgba(0,0,0,.12)"></div><div class="t" style="left:207.75px;top:477.10px;font-size:4.3px;color:#666;">A<span style="font-size:3.4px">x</span>&nbsp; Verkoopgroepen...</div><svg width="1024" height="754"><path d="M251.00,477.6 l1.5,1.5 l1.5,-1.5" stroke="#888" stroke-width="0.7" fill="none"/></svg>
<div class="abs" style="left:266.25px;top:472.50px;width:55.75px;height:12.00px;border-radius:2px;box-shadow:0 0 1.5px rgba(0,0,0,.12)"></div><div class="t" style="left:270.25px;top:477.10px;font-size:4.3px;color:#666;">A<span style="font-size:3.4px">x</span>&nbsp; Verkoop</div><svg width="1024" height="754"><path d="M313.00,477.6 l1.5,1.5 l1.5,-1.5" stroke="#888" stroke-width="0.7" fill="none"/></svg>
<div class="abs" style="left:327.50px;top:472.50px;width:58.75px;height:12.00px;border-radius:2px;box-shadow:0 0 1.5px rgba(0,0,0,.12)"></div><div class="t" style="left:331.50px;top:477.10px;font-size:4.3px;color:#666;">A<span style="font-size:3.4px">x</span>&nbsp; Standaard verkoop</div><svg width="1024" height="754"><path d="M377.25,477.6 l1.5,1.5 l1.5,-1.5" stroke="#888" stroke-width="0.7" fill="none"/></svg>
<div class="abs" style="left:390.00px;top:472.50px;width:72.50px;height:12.00px;border-radius:2px;box-shadow:0 0 1.5px rgba(0,0,0,.12)"></div><div class="t" style="left:394.00px;top:477.10px;font-size:4.3px;color:#666;">A<span style="font-size:3.4px">x</span>&nbsp; Reserveringscoderingen</div><svg width="1024" height="754"><path d="M453.50,477.6 l1.5,1.5 l1.5,-1.5" stroke="#888" stroke-width="0.7" fill="none"/></svg>
<div class="abs" style="left:468.00px;top:472.50px;width:58.25px;height:12.00px;border-radius:2px;box-shadow:0 0 1.5px rgba(0,0,0,.12)"></div><div class="t" style="left:472.00px;top:477.10px;font-size:4.3px;color:#666;">A<span style="font-size:3.4px">x</span>&nbsp; Relatiecoderingen</div><svg width="1024" height="754"><path d="M517.25,477.6 l1.5,1.5 l1.5,-1.5" stroke="#888" stroke-width="0.7" fill="none"/></svg>
<div class="abs" style="left:73.75px;top:516.00px;width:98.75px;height:80.00px;box-shadow:0 0 2px rgba(0,0,0,.045);border-radius:2px"></div>
<div class="abs" style="left:180.00px;top:516.00px;width:97.50px;height:80.00px;box-shadow:0 0 2px rgba(0,0,0,.045);border-radius:2px"></div>
<div class="abs" style="left:284.00px;top:516.00px;width:99.00px;height:80.00px;box-shadow:0 0 2px rgba(0,0,0,.045);border-radius:2px"></div>
<div class="t" style="left:65.50px;top:543.70px;font-size:16.5px;color:#3f4560;width:120px;text-align:center;font-weight:bold">€ 2.5M</div>
<div class="t" style="left:65.50px;top:561.80px;font-size:5.4px;color:#555;width:120px;text-align:center">Omzet</div>
<div class="t" style="left:168.75px;top:543.70px;font-size:16.5px;color:#3f4560;width:120px;text-align:center;font-weight:bold">25.942</div>
<div class="t" style="left:168.75px;top:561.80px;font-size:5.4px;color:#555;width:120px;text-align:center">Aantal personen</div>
<div class="t" style="left:272.00px;top:543.70px;font-size:16.5px;color:#3f4560;width:120px;text-align:center;font-weight:bold">€ 96,54</div>
<div class="t" style="left:272.00px;top:561.80px;font-size:5.4px;color:#555;width:120px;text-align:center">Gemiddelde besteding</div>
<div class="t" style="left:389.50px;top:522.60px;font-size:4.5px;color:#444;">Omzet per reserveringsstatus</div>
<div class="abs" style="left:400.00px;top:557.70px;width:3.60px;height:3.60px;border-radius:50%;background:#4a90d9"></div>
<div class="t" style="left:406.30px;top:557.50px;font-size:5.6px;color:#3f4560;">1. Definitief</div>
<div class="abs" style="left:400.00px;top:564.50px;width:3.60px;height:3.60px;border-radius:50%;background:#e57373"></div>
<div class="t" style="left:406.30px;top:564.30px;font-size:5.6px;color:#3f4560;">2. Optie</div>
<svg width="1024" height="754" style="font-family:'Liberation Sans',Arial,sans-serif">
<path d="M484.00,536.00 A26.25,26.25 0 1 1 476.33,537.15 L479.32,546.95 A16,16 0 1 0 484.00,546.25 Z" fill="#4a90d9" />
<path d="M476.33,537.15 A26.25,26.25 0 0 1 484.00,536.00 L484.00,546.25 A16,16 0 0 0 479.32,546.95 Z" fill="#e57373" />
<line x1="484" y1="536" x2="484" y2="546.25" stroke="#fff" stroke-width="0.6"/>
<text x="484" y="562.6" font-size="6.6" fill="#555" text-anchor="middle">2.504.433,</text>
<text x="484" y="568.5" font-size="3.4" fill="#aaa" text-anchor="middle">totaal</text>
<line x1="74" y1="597.5" x2="540" y2="597.5" stroke="#f0f0f0" stroke-width="0.7"/>
<text x="79.5" y="606.7" font-size="4.6" fill="#555" font-weight="bold">Wekelijkse omzet</text>
<circle cx="81.5" cy="614.25" r="1.7" fill="#e57373"/><text x="85.7" y="615.9" font-size="4.6" fill="#3f4560">Gemiddeld</text>
<circle cx="113" cy="614.25" r="1.7" fill="#f5c342"/><text x="118" y="615.9" font-size="4.6" fill="#3f4560">Omzet</text>
<text x="105" y="633.7" font-size="3.6" fill="#8a8a8a" text-anchor="end">€ 250.000</text>
<text x="105" y="645.6" font-size="3.6" fill="#8a8a8a" text-anchor="end">€ 200.000</text>
<text x="105" y="657.5" font-size="3.6" fill="#8a8a8a" text-anchor="end">€ 150.000</text>
<text x="105" y="669.4" font-size="3.6" fill="#8a8a8a" text-anchor="end">€ 100.000</text>
<text x="105" y="681.3" font-size="3.6" fill="#8a8a8a" text-anchor="end">€ 50.000</text>
<text x="105" y="693.2" font-size="3.6" fill="#8a8a8a" text-anchor="end">€ 0</text>
<text x="0" y="0" font-size="4" fill="#999" transform="translate(84,655) rotate(-90)" text-anchor="middle">Omzet</text>
<text x="282.5" y="629.2" font-size="3.6" fill="#8a8a8a">€ 400</text>
<text x="282.5" y="637.2" font-size="3.6" fill="#8a8a8a">€ 350</text>
<text x="282.5" y="645.2" font-size="3.6" fill="#8a8a8a">€ 300</text>
<text x="282.5" y="653.2" font-size="3.6" fill="#8a8a8a">€ 250</text>
<text x="282.5" y="661.2" font-size="3.6" fill="#8a8a8a">€ 200</text>
<text x="282.5" y="669.2" font-size="3.6" fill="#8a8a8a">€ 150</text>
<text x="282.5" y="677.2" font-size="3.6" fill="#8a8a8a">€ 100</text>
<text x="282.5" y="685.2" font-size="3.6" fill="#8a8a8a">€ 50</text>
<text x="282.5" y="693.2" font-size="3.6" fill="#8a8a8a">€ 0</text>
<text x="0" y="0" font-size="4" fill="#999" transform="translate(294.5,650) rotate(90)" text-anchor="middle">Gemiddeld</text>
<rect x="116.6" y="642" width="1.8" height="50.0" fill="#f6cb55"/>
<rect x="144.1" y="623.75" width="1.8" height="68.2" fill="#f6cb55"/>
<rect x="147.8" y="670" width="1.8" height="22.0" fill="#f6cb55"/>
<rect x="182.1" y="646" width="1.8" height="46.0" fill="#f6cb55"/>
<rect x="196.1" y="644" width="1.8" height="48.0" fill="#f6cb55"/>
<rect x="209.8" y="645" width="1.8" height="47.0" fill="#f6cb55"/>
<rect x="240.8" y="644" width="1.8" height="48.0" fill="#f6cb55"/>
<rect x="248.1" y="640" width="1.8" height="52.0" fill="#f6cb55"/>
<rect x="258.1" y="664" width="1.8" height="28.0" fill="#f6cb55"/>
<rect x="272.1" y="646" width="1.8" height="46.0" fill="#f6cb55"/>
<rect x="127.1" y="682" width="1.8" height="10.0" fill="#f6cb55"/>
<rect x="134.1" y="684" width="1.8" height="8.0" fill="#f6cb55"/>
<rect x="159.1" y="686" width="1.8" height="6.0" fill="#f6cb55"/>
<rect x="171.1" y="680" width="1.8" height="12.0" fill="#f6cb55"/>
<rect x="223.1" y="683" width="1.8" height="9.0" fill="#f6cb55"/>
<rect x="231.1" y="680" width="1.8" height="12.0" fill="#f6cb55"/>
<rect x="265.1" y="678" width="1.8" height="14.0" fill="#f6cb55"/>
<rect x="277.1" y="684" width="1.8" height="8.0" fill="#f6cb55"/>
<polyline points="110,678 114,681 118,676 122,678 126,683 130,676 134,680 138,656 142,680 146,676 150,674 154,676 158,673 162,671 166,679 170,675 174,678 178,672 180,623 184,665 188,675 192,676 196,682 200,676 204,686 208,688 212,678 216,676 220,678 224,674 228,676 232,672 236,674 240,678 244,672 249,640 252,672 256,684 260,676 264,678 268,672 272,676 276,672" fill="none" stroke="#eba0a4" stroke-width="0.8"/>
<circle cx="110" cy="678" r="1" fill="#fff" stroke="#eba0a4" stroke-width="0.5"/>
<circle cx="118" cy="676" r="1" fill="#fff" stroke="#eba0a4" stroke-width="0.5"/>
<circle cx="126" cy="683" r="1" fill="#fff" stroke="#eba0a4" stroke-width="0.5"/>
<circle cx="134" cy="680" r="1" fill="#fff" stroke="#eba0a4" stroke-width="0.5"/>
<circle cx="142" cy="680" r="1" fill="#fff" stroke="#eba0a4" stroke-width="0.5"/>
<circle cx="150" cy="674" r="1" fill="#fff" stroke="#eba0a4" stroke-width="0.5"/>
<circle cx="158" cy="673" r="1" fill="#fff" stroke="#eba0a4" stroke-width="0.5"/>
<circle cx="166" cy="679" r="1" fill="#fff" stroke="#eba0a4" stroke-width="0.5"/>
<circle cx="174" cy="678" r="1" fill="#fff" stroke="#eba0a4" stroke-width="0.5"/>
<circle cx="180" cy="623" r="1" fill="#fff" stroke="#eba0a4" stroke-width="0.5"/>
<circle cx="188" cy="675" r="1" fill="#fff" stroke="#eba0a4" stroke-width="0.5"/>
<circle cx="196" cy="682" r="1" fill="#fff" stroke="#eba0a4" stroke-width="0.5"/>
<circle cx="204" cy="686" r="1" fill="#fff" stroke="#eba0a4" stroke-width="0.5"/>
<circle cx="212" cy="678" r="1" fill="#fff" stroke="#eba0a4" stroke-width="0.5"/>
<circle cx="220" cy="678" r="1" fill="#fff" stroke="#eba0a4" stroke-width="0.5"/>
<circle cx="228" cy="676" r="1" fill="#fff" stroke="#eba0a4" stroke-width="0.5"/>
<circle cx="236" cy="674" r="1" fill="#fff" stroke="#eba0a4" stroke-width="0.5"/>
<circle cx="244" cy="672" r="1" fill="#fff" stroke="#eba0a4" stroke-width="0.5"/>
<circle cx="252" cy="672" r="1" fill="#fff" stroke="#eba0a4" stroke-width="0.5"/>
<circle cx="260" cy="676" r="1" fill="#fff" stroke="#eba0a4" stroke-width="0.5"/>
<circle cx="268" cy="672" r="1" fill="#fff" stroke="#eba0a4" stroke-width="0.5"/>
<circle cx="276" cy="672" r="1" fill="#fff" stroke="#eba0a4" stroke-width="0.5"/>
<text x="312" y="606.7" font-size="4.6" fill="#555" font-weight="bold">Maandelijkse omzet</text>
<circle cx="314" cy="614.25" r="1.7" fill="#e57373"/><text x="318.3" y="615.9" font-size="4.6" fill="#3f4560">Gemiddeld</text>
<circle cx="345" cy="614.25" r="1.7" fill="#f5c342"/><text x="350" y="615.9" font-size="4.6" fill="#3f4560">Omzet</text>
<text x="338" y="634.5" font-size="3.6" fill="#8a8a8a" text-anchor="end">€ 400.000</text>
<text x="338" y="645.4" font-size="3.6" fill="#8a8a8a" text-anchor="end">€ 300.000</text>
<text x="338" y="656.3" font-size="3.6" fill="#8a8a8a" text-anchor="end">€ 200.000</text>
<text x="338" y="667.2" font-size="3.6" fill="#8a8a8a" text-anchor="end">€ 100.000</text>
<text x="338" y="678.1" font-size="3.6" fill="#8a8a8a" text-anchor="end">€ 0</text>
<text x="0" y="0" font-size="4" fill="#999" transform="translate(316.5,650) rotate(-90)" text-anchor="middle">Omzet</text>
<text x="515" y="626.2" font-size="3.6" fill="#8a8a8a">€ 1.20</text>
<text x="515" y="634.8" font-size="3.6" fill="#8a8a8a">€ 1.00</text>
<text x="515" y="643.4" font-size="3.6" fill="#8a8a8a">€ 0.80</text>
<text x="515" y="652.0" font-size="3.6" fill="#8a8a8a">€ 0.60</text>
<text x="515" y="660.6" font-size="3.6" fill="#8a8a8a">€ 0.40</text>
<text x="515" y="669.2" font-size="3.6" fill="#8a8a8a">€ 0.20</text>
<text x="515" y="677.8" font-size="3.6" fill="#8a8a8a">€ 0</text>
<text x="0" y="0" font-size="4" fill="#999" transform="translate(528.5,650) rotate(90)" text-anchor="middle">Gemiddeld</text>
<rect x="348.25" y="651.25" width="10" height="25.75" fill="#f7cf58"/>
<rect x="361.74" y="667.5" width="10" height="9.50" fill="#f7cf58"/>
<rect x="375.23" y="631.5" width="10" height="45.50" fill="#f7cf58"/>
<rect x="388.72" y="675" width="10" height="2.00" fill="#f7cf58"/>
<rect x="402.21" y="672" width="10" height="5.00" fill="#f7cf58"/>
<rect x="415.70" y="650.75" width="10" height="26.25" fill="#f7cf58"/>
<rect x="429.19" y="654.5" width="10" height="22.50" fill="#f7cf58"/>
<rect x="442.68" y="651.5" width="10" height="25.50" fill="#f7cf58"/>
<rect x="456.17" y="661" width="10" height="16.00" fill="#f7cf58"/>
<rect x="469.66" y="623.75" width="10" height="53.25" fill="#f7cf58"/>
<rect x="483.15" y="661.5" width="10" height="15.50" fill="#f7cf58"/>
<rect x="496.64" y="653" width="10" height="24.00" fill="#f7cf58"/>
<polyline points="353.25,637 366.74,623.25 380.23,632.5 393.72,645.75 407.21,640 420.70,636.75 434.19,647 447.68,641.5 461.17,626.75 474.66,633.75 488.15,635.5 501.64,634.5" fill="none" stroke="#eb8f96" stroke-width="0.8"/>
<circle cx="353.25" cy="637" r="1.2" fill="#fff" stroke="#eb8f96" stroke-width="0.6"/>
<circle cx="366.74" cy="623.25" r="1.2" fill="#fff" stroke="#eb8f96" stroke-width="0.6"/>
<circle cx="380.23" cy="632.5" r="1.2" fill="#fff" stroke="#eb8f96" stroke-width="0.6"/>
<circle cx="393.72" cy="645.75" r="1.2" fill="#fff" stroke="#eb8f96" stroke-width="0.6"/>
<circle cx="407.21" cy="640" r="1.2" fill="#fff" stroke="#eb8f96" stroke-width="0.6"/>
<circle cx="420.70" cy="636.75" r="1.2" fill="#fff" stroke="#eb8f96" stroke-width="0.6"/>
<circle cx="434.19" cy="647" r="1.2" fill="#fff" stroke="#eb8f96" stroke-width="0.6"/>
<circle cx="447.68" cy="641.5" r="1.2" fill="#fff" stroke="#eb8f96" stroke-width="0.6"/>
<circle cx="461.17" cy="626.75" r="1.2" fill="#fff" stroke="#eb8f96" stroke-width="0.6"/>
<circle cx="474.66" cy="633.75" r="1.2" fill="#fff" stroke="#eb8f96" stroke-width="0.6"/>
<circle cx="488.15" cy="635.5" r="1.2" fill="#fff" stroke="#eb8f96" stroke-width="0.6"/>
<circle cx="501.64" cy="634.5" r="1.2" fill="#fff" stroke="#eb8f96" stroke-width="0.6"/>
<text x="346" y="648.8" font-size="3.8" fill="#3f4560" font-weight="bold">€ 237.4k</text>
<text x="376" y="629.3" font-size="3.8" fill="#3f4560" font-weight="bold">€ 459.4k</text>
<text x="401" y="669.3" font-size="3.8" fill="#3f4560" font-weight="bold">€ 47.4k</text>
<text x="426" y="651.8" font-size="3.8" fill="#3f4560" font-weight="bold">€ 209.3k</text>
<text x="453" y="658.8" font-size="3.8" fill="#3f4560" font-weight="bold">€ 148.1k</text>
<text x="480" y="658.8" font-size="3.8" fill="#3f4560" font-weight="bold">€ 146.2k</text>
<text x="355.25" y="681" font-size="3.6" fill="#8a8a8a" text-anchor="end" transform="rotate(-40 355.25 681)">2023-01</text>
<text x="368.74" y="681" font-size="3.6" fill="#8a8a8a" text-anchor="end" transform="rotate(-40 368.74 681)">2023-02</text>
<text x="382.23" y="681" font-size="3.6" fill="#8a8a8a" text-anchor="end" transform="rotate(-40 382.23 681)">2023-03</text>
<text x="395.72" y="681" font-size="3.6" fill="#8a8a8a" text-anchor="end" transform="rotate(-40 395.72 681)">2023-04</text>
<text x="409.21" y="681" font-size="3.6" fill="#8a8a8a" text-anchor="end" transform="rotate(-40 409.21 681)">2023-05</text>
<text x="422.70" y="681" font-size="3.6" fill="#8a8a8a" text-anchor="end" transform="rotate(-40 422.70 681)">2023-06</text>
<text x="436.19" y="681" font-size="3.6" fill="#8a8a8a" text-anchor="end" transform="rotate(-40 436.19 681)">2023-07</text>
<text x="449.68" y="681" font-size="3.6" fill="#8a8a8a" text-anchor="end" transform="rotate(-40 449.68 681)">2023-08</text>
<text x="463.17" y="681" font-size="3.6" fill="#8a8a8a" text-anchor="end" transform="rotate(-40 463.17 681)">2023-09</text>
<text x="476.66" y="681" font-size="3.6" fill="#8a8a8a" text-anchor="end" transform="rotate(-40 476.66 681)">2023-10</text>
<text x="490.15" y="681" font-size="3.6" fill="#8a8a8a" text-anchor="end" transform="rotate(-40 490.15 681)">2023-11</text>
<text x="503.64" y="681" font-size="3.6" fill="#8a8a8a" text-anchor="end" transform="rotate(-40 503.64 681)">2023-12</text>
</svg>
</div></div>
<div id="card2" class="abs"><div class="pc">
<div class="abs" style="left:578.00px;top:506.00px;width:402.00px;height:300.00px;background:#fff"></div>
<div class="t" style="left:587.00px;top:518.30px;font-size:7.35px;color:#4a5070;font-weight:bold">omzetwijziging per verkoopgroep</div>
<div class="abs" style="left:623.90px;top:593.90px;width:6.20px;height:6.20px;border-radius:50%;background:#4e9ce2"></div>
<div class="t" style="left:635.50px;top:593.00px;font-size:9.35px;color:#4a5070;">Ontvangst/Pauze(s)</div>
<div class="abs" style="left:623.90px;top:605.55px;width:6.20px;height:6.20px;border-radius:50%;background:#9cc3ee"></div>
<div class="t" style="left:635.50px;top:604.65px;font-size:9.35px;color:#4a5070;">Dranken</div>
<div class="abs" style="left:623.90px;top:617.20px;width:6.20px;height:6.20px;border-radius:50%;background:#2f7dd0"></div>
<div class="t" style="left:635.50px;top:616.30px;font-size:9.35px;color:#4a5070;">Diners</div>
<div class="abs" style="left:623.90px;top:628.85px;width:6.20px;height:6.20px;border-radius:50%;background:#7ab648"></div>
<div class="t" style="left:635.50px;top:627.95px;font-size:9.35px;color:#4a5070;">Zalen</div>
<div class="abs" style="left:623.90px;top:640.50px;width:6.20px;height:6.20px;border-radius:50%;background:#a9d282"></div>
<div class="t" style="left:635.50px;top:639.60px;font-size:9.35px;color:#4a5070;">Aperitief/Borrel</div>
<div class="abs" style="left:623.90px;top:652.15px;width:6.20px;height:6.20px;border-radius:50%;background:#bbbcc0"></div>
<div class="t" style="left:635.50px;top:651.25px;font-size:9.35px;color:#4a5070;">Other</div>
<svg width="1024" height="754" style="font-family:'Liberation Sans',Arial,sans-serif">
<path d="M859.50,542.50 A82.5,82.5 0 0 1 930.25,667.44 L901.52,650.21 A49,49 0 0 0 859.50,576.00 Z" fill="#4e9ce2" />
<path d="M930.25,667.44 A82.5,82.5 0 0 1 850.19,706.97 L853.97,673.69 A49,49 0 0 0 901.52,650.21 Z" fill="#a3c6ee" />
<path d="M850.19,706.97 A82.5,82.5 0 0 1 786.23,662.92 L815.98,647.52 A49,49 0 0 0 853.97,673.69 Z" fill="#3d85d4" />
<path d="M786.23,662.92 A82.5,82.5 0 0 1 784.85,589.87 L815.16,604.14 A49,49 0 0 0 815.98,647.52 Z" fill="#7cb94c" />
<path d="M784.85,589.87 A82.5,82.5 0 0 1 820.21,552.46 L836.16,581.91 A49,49 0 0 0 815.16,604.14 Z" fill="#a9d282" />
<path d="M820.21,552.46 A82.5,82.5 0 0 1 859.50,542.50 L859.50,576.00 A49,49 0 0 0 836.16,581.91 Z" fill="#b5b7bc" />
<line x1="859.50" y1="577.00" x2="859.50" y2="541.00" stroke="#fff" stroke-width="1.3"/>
<line x1="900.66" y1="649.69" x2="931.53" y2="668.21" stroke="#fff" stroke-width="1.3"/>
<line x1="854.08" y1="672.69" x2="850.02" y2="708.46" stroke="#fff" stroke-width="1.3"/>
<line x1="816.87" y1="647.06" x2="784.90" y2="663.60" stroke="#fff" stroke-width="1.3"/>
<line x1="816.07" y1="604.56" x2="783.49" y2="589.23" stroke="#fff" stroke-width="1.3"/>
<line x1="836.64" y1="582.79" x2="819.50" y2="551.14" stroke="#fff" stroke-width="1.3"/>
<text x="916.25" y="594.4" font-size="6.8" fill="#fff" font-weight="bold" text-anchor="middle">33,6%</text>
<text x="890" y="686.15" font-size="6.8" fill="#fff" font-weight="bold" text-anchor="middle">18,2%</text>
<text x="823" y="682.4" font-size="6.8" fill="#fff" font-weight="bold" text-anchor="middle">15,6%</text>
<text x="793.25" y="629.9" font-size="6.8" fill="#fff" font-weight="bold" text-anchor="middle">14,6%</text>
<text x="811.25" y="582.4" font-size="6.8" fill="#fff" font-weight="bold" text-anchor="middle">10,1%</text>
<text x="843" y="563.65" font-size="6.8" fill="#fff" font-weight="bold" text-anchor="middle">7,9%</text>
<text x="859.5" y="625.5" font-size="12.1" fill="#4a5070" text-anchor="middle">€ 2.293.514,71</text>
<text x="859.5" y="636" font-size="6.7" fill="#a9a9a9" text-anchor="middle" letter-spacing="0.35">TOTAL</text>
</svg>
</div></div>
<div id="fade" class="abs"></div>
</div>
</body></html>
